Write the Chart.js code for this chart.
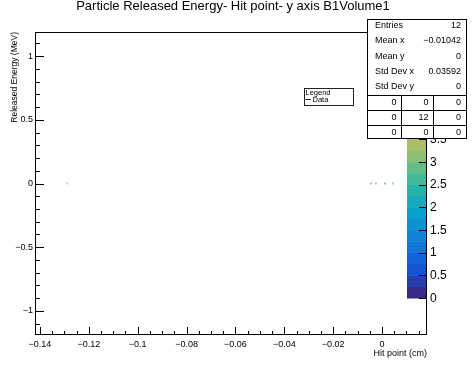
<!DOCTYPE html>
<html><head><meta charset="utf-8">
<script src="https://cdn.jsdelivr.net/npm/chart.js@4/dist/chart.umd.min.js"></script>
<style>html,body{margin:0;padding:0;background:#fff;overflow:hidden}canvas{display:block}</style>
</head><body>
<canvas id="c" width="474" height="365"></canvas>
<script>
// ---- data ----
const chartTitle = 'Particle Released Energy- Hit point- y axis B1Volume1';
const xTitle = 'Hit point (cm)';
const yTitle = 'Released Energy (MeV)';
const hitPoint = [-0.1288, -0.0045, -0.0025, 0.0012, 0.0045];
const releasedEnergy = [0, 0, 0, 0, 0];
const xMajorTicks = [-0.14, -0.12, -0.1, -0.08, -0.06, -0.04, -0.02, 0];
const xTickLabels = ['\u22120.14', '\u22120.12', '\u22120.1', '\u22120.08', '\u22120.06', '\u22120.04', '\u22120.02', '0'];
const yMajorTicks = [-1, -0.5, 0, 0.5, 1];
const yTickLabels = ['\u22121', '\u22120.5', '0', '0.5', '1'];
const paletteTicks = [0, 0.5, 1, 1.5, 2, 2.5, 3, 3.5];
const paletteTickLabels = ['0', '0.5', '1', '1.5', '2', '2.5', '3', '3.5'];
const statsLabels = ['Entries', 'Mean x', 'Mean y', 'Std Dev x', 'Std Dev y'];
const statsValues = ['12', '\u22120.01042', '0', '0.03592', '0'];
const cellCounts = [[0, 0, 0], [0, 12, 0], [0, 0, 0]];
const legendTitle = 'Legend';
const legendEntry = 'Data';

const FONT = '"Liberation Sans", Arial, sans-serif';

function bird(f) {
  const s = [0, .125, .25, .375, .5, .625, .75, .875, 1];
  const r = [0.2082, 0.0592, 0.0780, 0.0232, 0.1802, 0.5301, 0.8186, 0.9956, 0.9764];
  const g = [0.1664, 0.3599, 0.5041, 0.6419, 0.7178, 0.7492, 0.7328, 0.7862, 0.9832];
  const b = [0.5293, 0.8684, 0.8385, 0.7914, 0.6425, 0.4662, 0.3499, 0.1968, 0.0539];
  f = Math.max(0, Math.min(1, f));
  let i = 0; while (i < 7 && f > s[i + 1]) i++;
  const t = (f - s[i]) / (s[i + 1] - s[i]);
  const c = a => Math.round(255 * (a[i] + (a[i + 1] - a[i]) * t));
  return `rgb(${c(r)},${c(g)},${c(b)})`;
}

const decor = {
  id: 'decor',
  afterDatasetsDraw(chart) {
    const ctx = chart.ctx, a = chart.chartArea, xs = chart.scales.x, ys = chart.scales.y;
    ctx.save();
    // frame
    ctx.strokeStyle = '#000'; ctx.lineWidth = 1;
    ctx.strokeRect(a.left - 0.5, a.top + 0.5, a.right - a.left, a.bottom - a.top - 1);
    // x ticks
    ctx.beginPath();
    for (let v = -0.14; v <= 0.0184; v += 0.005) {
      const vv = Math.round(v * 1000) / 1000;
      const px = Math.round(xs.getPixelForValue(vv)) + 0.5;
      const major = Math.abs(vv / 0.02 - Math.round(vv / 0.02)) < 1e-6;
      ctx.moveTo(px, a.bottom); ctx.lineTo(px, a.bottom - (major ? 8 : 4));
    }
    // y ticks
    for (let v = -1.1; v <= 1.15; v += 0.1) {
      const vv = Math.round(v * 10) / 10;
      const py = Math.round(ys.getPixelForValue(vv)) + 0.5;
      const major = Math.abs(vv / 0.5 - Math.round(vv / 0.5)) < 1e-6;
      ctx.moveTo(a.left, py); ctx.lineTo(a.left + (major ? 8 : 4), py);
    }
    ctx.stroke();

    // palette
    const pL = 407, pR = 427, pBottom = 298, pxPerUnit = 45.4, zMax = 5, nb = 20;
    for (let i = 0; i < nb; i++) {
      const v0 = i * zMax / nb, v1 = (i + 1) * zMax / nb;
      ctx.fillStyle = bird(i / (nb - 1));
      const y0 = pBottom - v0 * pxPerUnit, y1 = pBottom - v1 * pxPerUnit;
      ctx.fillRect(pL, y1, pR - pL, y0 - y1 + 0.5);
    }
    ctx.strokeStyle = '#000';
    ctx.beginPath();
    ctx.moveTo(pR - 0.5, pBottom - zMax * pxPerUnit); ctx.lineTo(pR - 0.5, a.bottom);
    paletteTicks.forEach(v => {
      const py = Math.round(pBottom - v * pxPerUnit) + 0.5;
      ctx.moveTo(pR, py); ctx.lineTo(pR - 8, py);
    });
    ctx.stroke();
    ctx.fillStyle = '#000'; ctx.font = '12px ' + FONT;
    ctx.textAlign = 'left'; ctx.textBaseline = 'middle';
    paletteTicks.forEach((v, i) => ctx.fillText(paletteTickLabels[i], 430, pBottom - v * pxPerUnit + 0.5));

    // stats box
    const sL = 367, sR = 466, sT = 19, rowH = 15.3;
    const tableTop = 95, cellH = 15, nRows = cellCounts.length;
    const sB = tableTop + nRows * cellH - 2;
    ctx.fillStyle = '#fff';
    ctx.fillRect(sL, sT, sR - sL, sB - sT);
    ctx.strokeStyle = '#000';
    ctx.strokeRect(sL + 0.5, sT + 0.5, sR - sL, sB - sT);
    ctx.fillStyle = '#000'; ctx.font = '9px ' + FONT; ctx.textBaseline = 'middle';
    statsLabels.forEach((lab, i) => {
      const y = 25.5 + i * rowH;
      ctx.textAlign = 'left'; ctx.fillText(lab, 375, y);
      ctx.textAlign = 'right'; ctx.fillText(statsValues[i], 461, y);
    });
    const colX = [sL, 401.5, 433.5, sR];
    ctx.beginPath();
    for (let r = 0; r < nRows; r++) {
      const y = tableTop + r * cellH + 0.5;
      ctx.moveTo(sL, y); ctx.lineTo(sR, y);
    }
    ctx.moveTo(colX[1], tableTop); ctx.lineTo(colX[1], sB);
    ctx.moveTo(colX[2], tableTop); ctx.lineTo(colX[2], sB);
    ctx.stroke();
    ctx.textAlign = 'right';
    cellCounts.forEach((row, r) => row.forEach((val, c) => {
      ctx.fillText(String(val), colX[c + 1] - 5, tableTop + r * cellH + 8);
    }));

    // legend
    ctx.fillStyle = '#fff';
    ctx.fillRect(304, 88, 49, 17);
    ctx.strokeStyle = '#222';
    ctx.strokeRect(304.5, 88.5, 49, 17);
    ctx.fillStyle = '#000'; ctx.font = '7.5px ' + FONT; ctx.textAlign = 'left';
    ctx.fillText(legendTitle, 305.5, 92.5);
    ctx.fillText(legendEntry, 312.5, 100);
    ctx.beginPath(); ctx.moveTo(305.5, 99.5); ctx.lineTo(311, 99.5); ctx.stroke();

    // title
    ctx.font = '13px ' + FONT; ctx.textAlign = 'center'; ctx.textBaseline = 'alphabetic';
    ctx.fillText(chartTitle, 233, 9.5);
    ctx.restore();
  }
};

new Chart(document.getElementById('c'), {
  type: 'scatter',
  data: {
    datasets: [{
      data: hitPoint.map((x, i) => ({x, y: releasedEnergy[i]})),
      pointStyle: 'rect',
      pointRadius: 1.3,
      pointBorderWidth: 0,
      pointBackgroundColor: ['#b8c8d4', '#8fcbe6', '#8fcbe6', '#74c0e0', '#8fcbe6'],
      showLine: false
    }]
  },
  options: {
    responsive: false,
    devicePixelRatio: 1,
    animation: false,
    layout: {padding: {top: 32, right: 47, left: 0, bottom: 0}},
    plugins: {legend: {display: false}, title: {display: false}, tooltip: {enabled: false}},
    scales: {
      x: {
        type: 'linear', min: -0.1416, max: 0.0184,
        afterFit: s => { s.height = 30; },
        afterBuildTicks: s => { s.ticks = xMajorTicks.map(v => ({value: v})); },
        grid: {display: false, drawTicks: false, tickLength: 0}, border: {display: false},
        ticks: {
          autoSkip: false, maxRotation: 0, padding: 4, color: '#000',
          font: {size: 9, family: FONT},
          callback: (v, i) => xTickLabels[i]
        },
        title: {display: true, text: xTitle, align: 'end', color: '#000',
          font: {size: 9, family: FONT}, padding: {top: 0, bottom: 6.5}}
      },
      y: {
        type: 'linear', min: -1.19, max: 1.19,
        afterFit: s => { s.width = 36; },
        afterBuildTicks: s => { s.ticks = yMajorTicks.map(v => ({value: v})); },
        grid: {display: false, drawTicks: false, tickLength: 0}, border: {display: false},
        ticks: {
          autoSkip: false, padding: 3, color: '#000',
          font: {size: 9, family: FONT},
          callback: (v, i) => yTickLabels[i]
        },
        title: {display: true, text: yTitle, align: 'end', color: '#000',
          font: {size: 8.5, family: FONT}, padding: {top: 9.5, bottom: 0}}
      }
    }
  },
  plugins: [decor]
});
</script>
</body></html>
